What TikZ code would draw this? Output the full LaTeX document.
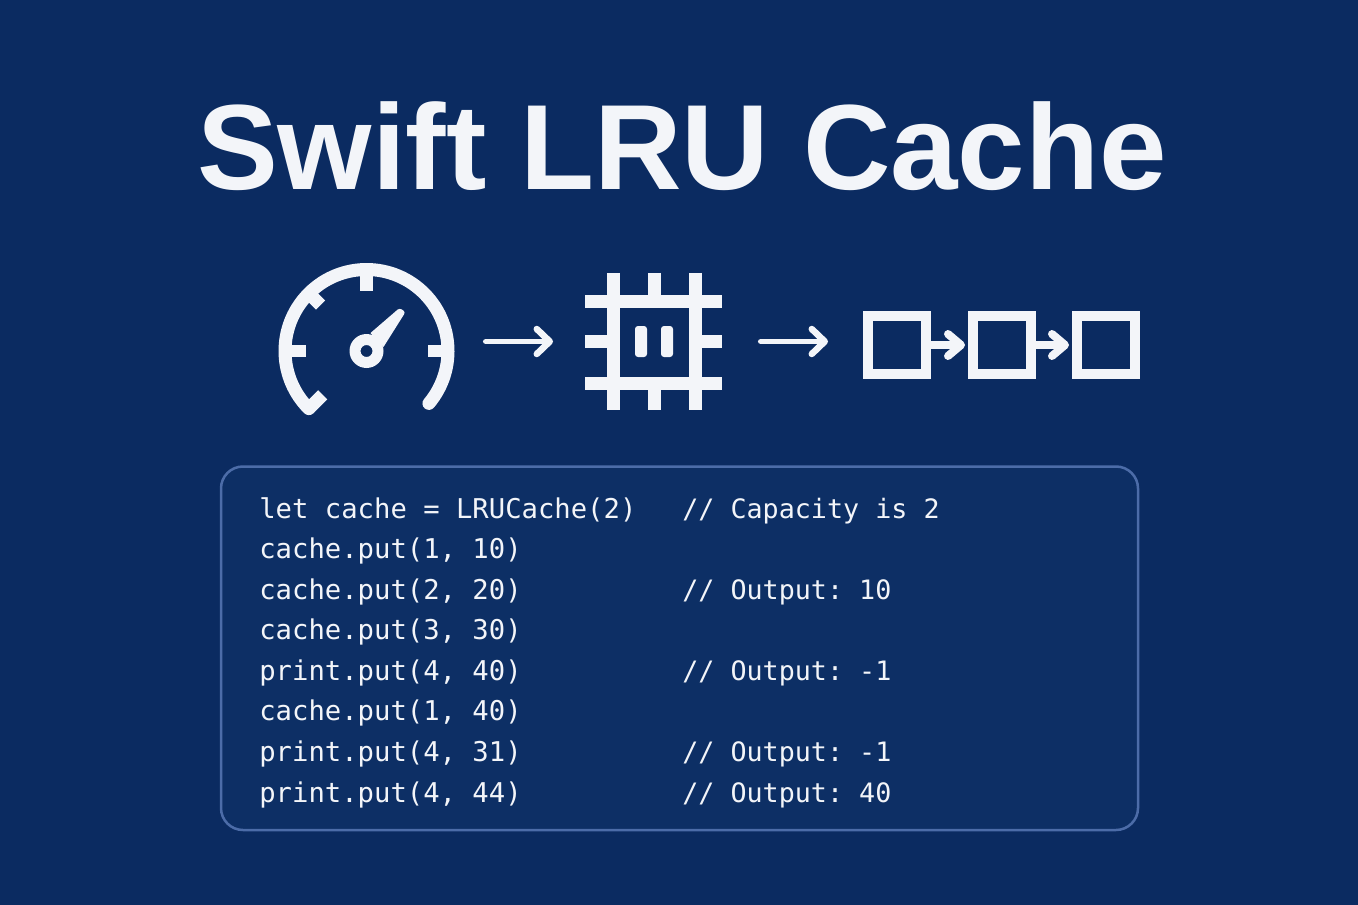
\documentclass[tikz,border=0pt]{standalone}
\usepackage{fontspec}
\setmainfont{Liberation Sans}
\setmonofont{DejaVu Sans Mono}
\usetikzlibrary{arrows.meta}
\definecolor{navy}{HTML}{0B2B61}
\definecolor{panel}{HTML}{0D2F65}
\definecolor{edge}{HTML}{4C6CA8}
\definecolor{ink}{HTML}{F3F5F9}
\tikzset{
	title/.style={ink,anchor=base,inner sep=0,font=\fontsize{69}{80}\selectfont\bfseries},
	code/.style={ink,anchor=base west,inner sep=0,font=\fontsize{15.5}{18}\selectfont\ttfamily},
	note/.style={ink,anchor=base west,inner sep=0,font=\fontsize{15.2}{18}\selectfont\ttfamily},
	icon/.style={ink,line width=0.26cm},
	ghost/.style={inner sep=0,outer sep=0,minimum height=1cm},
	flow/.style={ink,line width=0.12cm,line cap=round,-{Straight Barb[length=0.26cm,width=0.5cm,line width=0.13cm,round]}},
	cell/.style={draw=ink,line width=0.2cm,minimum size=1.16cm,inner sep=0,outer sep=0.1cm},
	link/.style={ink,line width=0.18cm,-{Straight Barb[length=0.26cm,width=0.44cm,line width=0.16cm,round]}}
}
\begin{document}
\begin{tikzpicture}[x=0.02cm,y=-0.02cm]
	\fill[navy] (0,0) rectangle (1358,905);
	\node[title] (heading) at (682,190) {Swift LRU Cache};
	% gauge
	\begin{scope}[shift={(366.5,351)},x=0.02cm,y=0.02cm]
		\draw[icon,line cap=round] (-40:81.5) arc[start angle=-40,end angle=225,radius=81.5];
		\draw[icon] (225:81.5) -- (225:62);
		\foreach \a/\r in {0/61,90/60,135/65,180/61}
			\draw[icon] (\a:82) -- (\a:\r);
		\fill[ink,even odd rule] (0,0) circle(17) (0,0) circle(6);
		\fill[ink] (4,18) [rounded corners=0.05cm] -- (33,43) -- (39,39) [sharp corners] -- (17,4) -- cycle;
	\end{scope}
	\node[ghost,minimum width=3.52cm] (gauge) at (367,341.5) {};
	% chip
	\node[ghost,minimum width=2.74cm] (chip) at (653.5,341.5) {};
	\foreach \y in {301.5,383.5}
		\draw[icon] (585,\y) -- (722,\y);
	\foreach \x in {613,695}
		\draw[icon] (\x,273) -- (\x,410);
	\draw[icon] (654,273) -- (654,301.5) (654,383.5) -- (654,410);
	\draw[icon] (585,341.5) -- (613,341.5) (695,341.5) -- (722,341.5);
	\foreach \x in {641,667}
		\fill[ink,rounded corners=0.06cm] (\x-6,326) rectangle (\x+6,357);
	% list
	\node[cell] (cella) at (897,345) {};
	\node[cell] (cellb) at (1001.5,345) {};
	\node[cell] (cellc) at (1105.5,345) {};
	\draw[link,shorten >=0.05cm] (cella) -- (cellb);
	\draw[link,shorten >=0.05cm] (cellb) -- (cellc);
	\draw[flow,shorten <=0.62cm,shorten >=0.64cm] (gauge.east) -- (chip.west);
	\draw[flow,shorten <=0.78cm,shorten >=0.7cm] (chip.east) -- (chip.east -| cella.west);
	% code
	\draw[edge,fill=panel,line width=0.05cm,rounded corners=0.44cm] (221,466.5) rectangle (1138,830);
	\foreach \n/\y/\txt in {a/518/{let cache = LRUCache(2)},b/558.5/{cache.put(1, 10)},c/599/{cache.put(2, 20)},d/639.5/{cache.put(3, 30)},e/680/{print.put(4, 40)},f/720.5/{cache.put(1, 40)},g/761/{print.put(4, 31)},h/802/{print.put(4, 44)}}
		\node[code] (line\n) at (259,\y) {\txt};
	\foreach \n/\y/\txt in {a/518/{// Capacity is 2},c/599/{// Output: 10},e/680/{// Output: -1},g/761/{// Output: -1},h/802/{// Output: 40}}
		\node[note] (note\n) at (682,\y) {\txt};
\end{tikzpicture}
\end{document}
